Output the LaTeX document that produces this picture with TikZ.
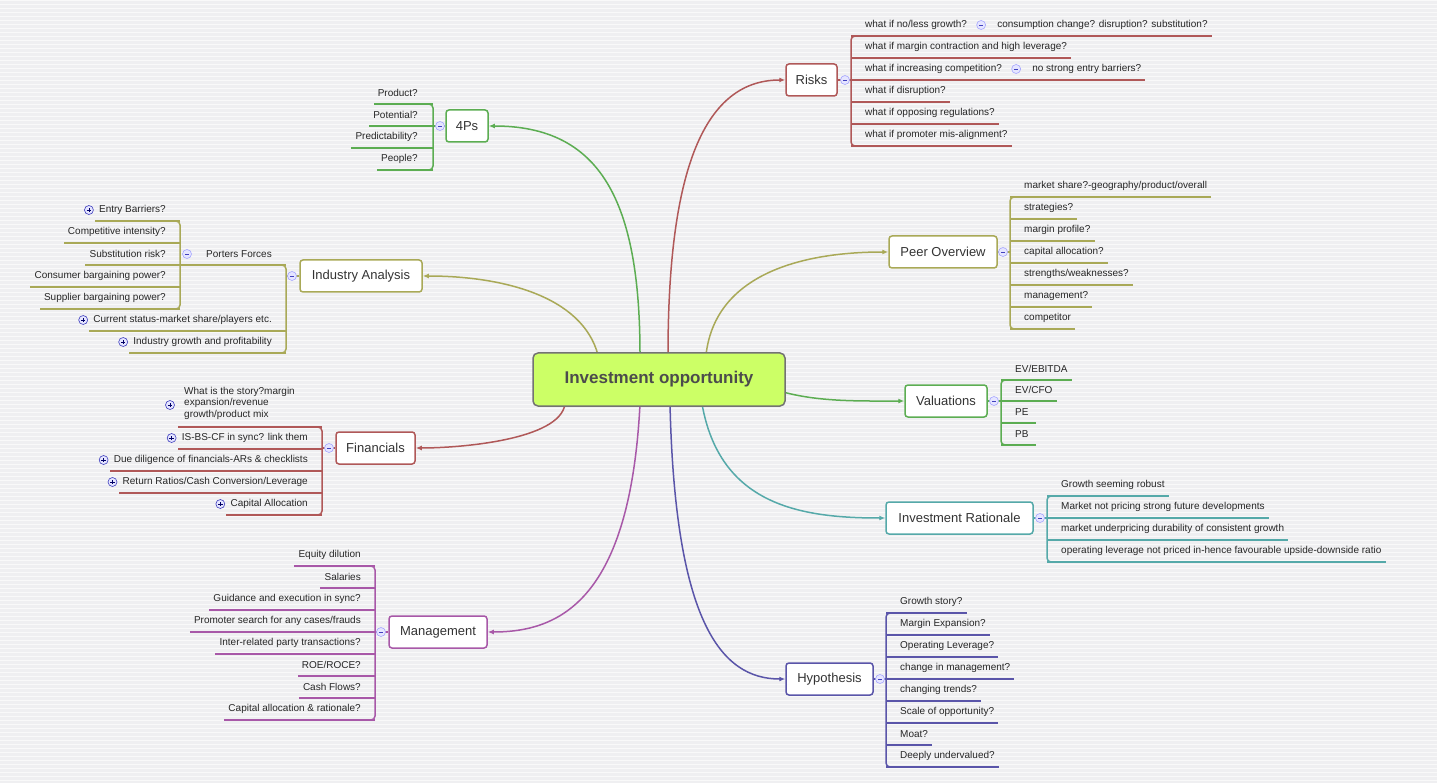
\documentclass[tikz,border=0pt]{standalone}
\usepackage{fontspec}
\setmainfont{Liberation Sans}
\usetikzlibrary{arrows.meta}
\definecolor{rc}{HTML}{B05858}
\definecolor{gc}{HTML}{5CAD52}
\definecolor{oc}{HTML}{A9A957}
\definecolor{pc}{HTML}{A858A8}
\definecolor{tc}{HTML}{55A9A9}
\definecolor{bc}{HTML}{5A55A9}
\definecolor{bg}{HTML}{EFEFF1}
\definecolor{lime}{HTML}{CCFF66}
\tikzset{
 leaf/.style={font=\fontsize{10}{12}\selectfont, text=black!85, inner sep=0pt},
 mainn/.style={draw, fill=white, rounded corners=3pt, line width=1.5pt, minimum height=32pt, font=\fontsize{13}{15}\selectfont, text=black!80, inner xsep=4pt},
 ul/.style={line width=1.5pt},
 br/.style={line width=1.5pt, rounded corners=4pt},
 edge/.style={line width=1.5pt, -{Latex[length=6pt,width=5pt]}},
 minus/.style={circle, draw=blue!35, fill=blue!10, line width=0.6pt, minimum size=9pt, inner sep=0pt,
   path picture={\draw[blue!50!gray, line width=0.7pt] ([xshift=-2.2pt]path picture bounding box.center) -- ([xshift=2.2pt]path picture bounding box.center);}},
 plus/.style={circle, draw=blue!50!gray, fill=blue!10, line width=0.6pt, minimum size=9pt, inner sep=0pt,
   path picture={\draw[blue!40!black, line width=0.7pt] ([xshift=-2.2pt]path picture bounding box.center) -- ([xshift=2.2pt]path picture bounding box.center) ([yshift=-2.2pt]path picture bounding box.center) -- ([yshift=2.2pt]path picture bounding box.center);}}
}
% right row: name, bracket x, text x, y, text
\newcommand\rrow[5]{\node[leaf,anchor=west] (#1) at (#3,#4) {#5}; \coordinate (#1u) at (0,#4+11); \draw[ul] (#2,#4+11) -- ([xshift=4pt]#1.east |- #1u);}
% left row: name, bracket x, text right x, y, text
\newcommand\lrow[5]{\node[leaf,anchor=east] (#1) at (#3,#4) {#5}; \coordinate (#1u) at (0,#4+11); \draw[ul] (#2,#4+11) -- ([xshift=-4pt]#1.west |- #1u);}
\begin{document}
\begin{tikzpicture}[x=1pt,y=-1pt]
\fill[bg] (0,0) rectangle (1437,783);
\useasboundingbox (0,0) rectangle (1437,783);
\foreach \i in {0,4,...,780} {\draw[white!60!bg, line width=0.5pt] (0,\i) -- (1437,\i);}

% main nodes
\node[mainn, draw=rc, minimum width=51pt] (risks) at (811.5,80) {Risks};
\node[mainn, draw=gc, minimum width=42pt] (fourp) at (467,126) {4Ps};
\node[mainn, draw=oc, minimum width=122pt] (ia) at (361,276) {Industry Analysis};
\node[mainn, draw=rc, minimum width=79pt] (fin) at (375.5,448) {Financials};
\node[mainn, draw=pc, minimum width=98pt] (mgmt) at (438,632) {Management};
\node[mainn, draw=oc, minimum width=108pt] (peer) at (943,252) {Peer Overview};
\node[mainn, draw=gc, minimum width=82pt] (val) at (946,401) {Valuations};
\node[mainn, draw=tc, minimum width=147pt] (ir) at (959.5,518) {Investment Rationale};
\node[mainn, draw=bc, minimum width=87pt] (hyp) at (829.5,679) {Hypothesis};

\coordinate (cRt) at (668,355);
\coordinate (cPt) at (640,355);
\coordinate (cIt) at (598,355);
\coordinate (cFb) at (565,404);
\coordinate (cMb) at (640,404);
\coordinate (cOt) at (706,355);
\coordinate (cVr) at (783,392);
\coordinate (cTb) at (702,404);
\coordinate (cHb) at (670,404);
\draw[edge, rc] (cRt) .. controls (668,180) and (700,80) .. (risks.west);
\draw[edge, gc] (cPt) .. controls (640,200) and (600,126) .. (fourp.east);
\draw[edge, oc] (cIt) .. controls (582,295) and (500,276) .. (ia.east);
\draw[edge, rc] (cFb) .. controls (560,440) and (460,448) .. (fin.east);
\draw[edge, pc] (cMb) .. controls (630,600) and (560,632) .. (mgmt.east);
\draw[edge, oc] (cOt) .. controls (715,275) and (800,252) .. (peer.west);
\draw[edge, gc] (cVr) .. controls (820,402) and (860,401) .. (val.west);
\draw[edge, tc] (cTb) .. controls (720,505) and (800,518) .. (ir.west);
\draw[edge, bc] (cHb) .. controls (675,620) and (720,679) .. (hyp.west);

\node[draw=black!55, line width=1.5pt, fill=lime, rounded corners=5pt, minimum width=252pt, minimum height=53pt, font=\fontsize{17}{20}\selectfont\bfseries, text=black!70] (center) at (659,379.5) {Investment opportunity};

% Risks
\begin{scope}[draw=rc]
\rrow{r1}{851}{865}{25}{what if no/less growth?}
\rrow{r2}{851}{865}{47}{what if margin contraction and high leverage?}
\rrow{r3}{851}{865}{69}{what if increasing competition?}
\rrow{r4}{851}{865}{91}{what if disruption?}
\rrow{r5}{851}{865}{113}{what if opposing regulations?}
\rrow{r6}{851}{865}{135}{what if promoter mis-alignment?}
\node[minus] (r1m) at ([xshift=14pt]r1.east) {};
\node[leaf, anchor=west] (r1c) at ([xshift=16pt]r1m.center) {consumption change? disruption? substitution?};
\draw[ul] (r1u -| r1.east) -- ([xshift=4pt]r1c.east |- r1u);
\node[minus] (r3m) at ([xshift=14pt]r3.east) {};
\node[leaf, anchor=west] (r3c) at ([xshift=16pt]r3m.center) {no strong entry barriers?};
\draw[ul] (r3u -| r3.east) -- ([xshift=4pt]r3c.east |- r3u);
\draw[br] (859,36) -- (851,36) -- (851,146) -- (859,146);
\draw[ul] (risks.east) -- (851,80);
\node[minus] (rm) at (845,80) {};
\end{scope}

% 4Ps
\begin{scope}[draw=gc]
\lrow{p1}{433}{418}{93}{Product?}
\lrow{p2}{433}{418}{115}{Potential?}
\lrow{p3}{433}{418}{137}{Predictability?}
\lrow{p4}{433}{418}{159}{People?}
\draw[br] (425,104) -- (433,104) -- (433,170) -- (425,170);
\draw[ul] (fourp.west) -- (433,126);
\node[minus] (pm) at (440,126) {};
\end{scope}

% Industry Analysis
\begin{scope}[draw=oc]
\lrow{i1}{180}{166}{210}{Entry Barriers?}
\lrow{i2}{180}{166}{232}{Competitive intensity?}
\lrow{i3}{180}{166}{254}{Substitution risk?}
\lrow{i4}{180}{166}{276}{Consumer bargaining power?}
\lrow{i5}{180}{166}{298}{Supplier bargaining power?}
\draw[br] (172,221) -- (180,221) -- (180,309) -- (172,309);
\node[leaf, anchor=east] (pf) at (272,254) {Porters Forces};
\draw[ul] (180,265) -- (286,265);
\node[minus] (pfm) at (187,254) {};
\lrow{i6}{286}{272}{320}{Current status-market share/players etc.}
\lrow{i7}{286}{272}{342}{Industry growth and profitability}
\draw[br] (278,265) -- (286,265) -- (286,353) -- (278,353);
\draw[ul] (ia.west) -- (286,276);
\node[minus] (iam) at (292,276) {};
\node[plus] at ([xshift=-10pt]i1.west) {};
\node[plus] at ([xshift=-10pt]i6.west) {};
\node[plus] at ([xshift=-10pt]i7.west) {};
\end{scope}

% Financials
\begin{scope}[draw=rc]
\node[leaf, anchor=north west, align=left, font=\fontsize{10}{11.5}\selectfont] (f1) at (184,387) {What is the story?margin\\expansion/revenue\\growth/product mix};
\coordinate (f1u) at (0,427);
\draw[ul] (322,427) -- (178,427);
\lrow{f2}{322}{308}{438}{IS-BS-CF in sync? link them}
\lrow{f3}{322}{308}{460}{Due diligence of financials-ARs \& checklists}
\lrow{f4}{322}{308}{482}{Return Ratios/Cash Conversion/Leverage}
\lrow{f5}{322}{308}{504}{Capital Allocation}
\draw[br] (314,427) -- (322,427) -- (322,515) -- (314,515);
\draw[ul] (fin.west) -- (322,448);
\node[minus] (fm) at (329,448) {};
\node[plus] at (170,405) {};
\node[plus] at ([xshift=-10pt]f2.west) {};
\node[plus] at ([xshift=-10pt]f3.west) {};
\node[plus] at ([xshift=-10pt]f4.west) {};
\node[plus] at ([xshift=-10pt]f5.west) {};
\end{scope}

% Management
\begin{scope}[draw=pc]
\lrow{m1}{375}{361}{555}{Equity dilution}
\lrow{m2}{375}{361}{577}{Salaries}
\lrow{m3}{375}{361}{599}{Guidance and execution in sync?}
\lrow{m4}{375}{361}{621}{Promoter search for any cases/frauds}
\lrow{m5}{375}{361}{643}{Inter-related party transactions?}
\lrow{m6}{375}{361}{665}{ROE/ROCE?}
\lrow{m7}{375}{361}{687}{Cash Flows?}
\lrow{m8}{375}{361}{709}{Capital allocation \& rationale?}
\draw[br] (367,566) -- (375,566) -- (375,720) -- (367,720);
\draw[ul] (mgmt.west) -- (375,632);
\node[minus] (mm) at (381,632) {};
\end{scope}

% Peer Overview
\begin{scope}[draw=oc]
\rrow{o1}{1010}{1024}{186}{market share?-geography/product/overall}
\rrow{o2}{1010}{1024}{208}{strategies?}
\rrow{o3}{1010}{1024}{230}{margin profile?}
\rrow{o4}{1010}{1024}{252}{capital allocation?}
\rrow{o5}{1010}{1024}{274}{strengths/weaknesses?}
\rrow{o6}{1010}{1024}{296}{management?}
\rrow{o7}{1010}{1024}{318}{competitor}
\draw[br] (1018,197) -- (1010,197) -- (1010,329) -- (1018,329);
\draw[ul] (peer.east) -- (1010,252);
\node[minus] (om) at (1003,252) {};
\end{scope}

% Valuations
\begin{scope}[draw=gc]
\rrow{v1}{1001}{1015}{369}{EV/EBITDA}
\rrow{v2}{1001}{1015}{390}{EV/CFO}
\rrow{v3}{1001}{1015}{412}{PE}
\rrow{v4}{1001}{1015}{434}{PB}
\draw[ul] (1001,423) -- (1036,423);
\draw[ul] (1001,445) -- (1036,445);
\draw[br] (1009,380) -- (1001,380) -- (1001,445) -- (1009,445);
\draw[ul] (val.east) -- (1001,401);
\node[minus] (vm) at (994,401) {};
\end{scope}

% Investment Rationale
\begin{scope}[draw=tc]
\rrow{t1}{1047}{1061}{485}{Growth seeming robust}
\rrow{t2}{1047}{1061}{507}{Market not pricing strong future developments}
\rrow{t3}{1047}{1061}{529}{market underpricing durability of consistent growth}
\rrow{t4}{1047}{1061}{551}{operating leverage not priced in-hence favourable upside-downside ratio}
\draw[br] (1055,496) -- (1047,496) -- (1047,562) -- (1055,562);
\draw[ul] (ir.east) -- (1047,518);
\node[minus] (tm) at (1040,518) {};
\end{scope}

% Hypothesis
\begin{scope}[draw=bc]
\rrow{h1}{886}{900}{602}{Growth story?}
\rrow{h2}{886}{900}{624}{Margin Expansion?}
\rrow{h3}{886}{900}{646}{Operating Leverage?}
\rrow{h4}{886}{900}{668}{change in management?}
\rrow{h5}{886}{900}{690}{changing trends?}
\rrow{h6}{886}{900}{712}{Scale of opportunity?}
\rrow{h7}{886}{900}{734}{Moat?}
\rrow{h8}{886}{900}{756}{Deeply undervalued?}
\draw[br] (894,613) -- (886,613) -- (886,767) -- (894,767);
\draw[ul] (hyp.east) -- (886,679);
\node[minus] (hm) at (880,679) {};
\end{scope}
\end{tikzpicture}
\end{document}
